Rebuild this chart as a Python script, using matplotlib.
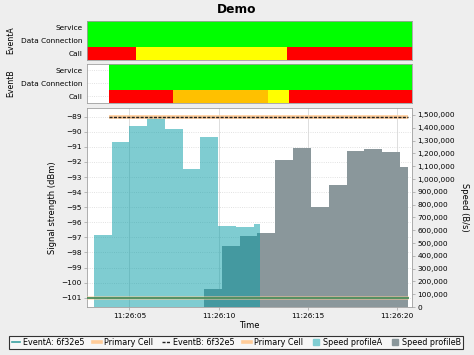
import matplotlib
matplotlib.use("Agg")
import matplotlib.pyplot as plt
import matplotlib.ticker as mticker
from matplotlib.lines import Line2D

# time axis: seconds after 11:26:00
T_MIN, T_MAX = 2.63, 20.82

# ---------------------------------------------------------
# state panels: start time of each state segment + state name
# ---------------------------------------------------------
rows = ["Call", "Data Connection", "Service"]

a_service_t = [2.63]
a_service_s = ["ok"]
a_data_t = [2.63]
a_data_s = ["ok"]
a_call_t = [2.63, 5.37, 13.81]
a_call_s = ["fail", "active", "fail"]

b_service_t = [3.86]
b_service_s = ["ok"]
b_data_t = [3.86]
b_data_s = ["ok"]
b_call_t = [3.86, 7.46, 12.78, 13.95]
b_call_s = ["fail", "setup", "active", "fail"]

STATE_COLORS = {"ok": "#00ff00", "fail": "#ff0000", "setup": "#ffc000", "active": "#ffff00"}

# ---------------------------------------------------------
# speed profiles (B/s), bar edges in seconds
# ---------------------------------------------------------
speed_a_edges = [3.02, 4.01, 5.0, 6.0, 6.98, 7.98, 8.98, 9.96, 10.96, 11.96, 12.33]
speed_a = [561000, 1291000, 1416000, 1487000, 1393000, 1077000, 1330000, 634000, 626000, 652000]

speed_b_edges = [9.18, 10.17, 11.17, 12.16, 13.16, 14.16, 15.16, 16.16, 17.16, 18.16, 19.16, 20.16, 20.61]
speed_b = [139000, 475000, 556000, 582000, 1145000, 1239000, 782000, 952000, 1221000, 1234000, 1208000, 1091000]

# signal strength (dBm)
sig_a_t = [2.63, 20.68]
sig_a = [-101, -101]
sig_b_t = [3.88, 20.6]
sig_b = [-89, -89]

BG = "#eeeeee"
BORDER = "#a0a0a0"
TEAL = "#009ba5"
GRAY = "#8a979b"
ORANGE = "#ffcc99"
GRID = "#d8d8d8"
TICK_FS = 5.3

plt.rcParams["font.family"] = "DejaVu Sans"
fig = plt.figure(figsize=(4.74, 3.55), dpi=100, facecolor=BG)

fig.text(0.5, 0.974, "Demo", ha="center", va="center", fontsize=8.8, fontweight="bold")

L, W = 0.1835, 0.6857


def state_panel(rect, name, series):
    axp = fig.add_axes(rect)
    for row, (starts, states) in enumerate(series):
        ends = starts[1:] + [T_MAX]
        spans = [(s, e - s) for s, e in zip(starts, ends)]
        axp.broken_barh(spans, (row, 1), facecolors=[STATE_COLORS[s] for s in states],
                        edgecolor="none", zorder=2)
    axp.set_xlim(T_MIN, T_MAX)
    axp.set_ylim(0, 3)
    axp.set_yticks([0.5, 1.5, 2.5])
    axp.set_yticklabels(rows, fontsize=TICK_FS)
    axp.tick_params(axis="y", length=0, pad=3)
    axp.set_xticks([5, 10, 15, 20])
    axp.tick_params(axis="x", length=0, labelbottom=False)
    axp.grid(color=GRID, linestyle=":", linewidth=0.6, zorder=0)
    axp.set_facecolor("white")
    for sp in axp.spines.values():
        sp.set_color(BORDER)
        sp.set_linewidth(0.6)
    axp.set_ylabel(name, fontsize=5.6)
    axp.yaxis.set_label_coords(-0.2215, 0.5)
    return axp


state_panel([L, 0.831, W, 0.110], "EventA",
            [(a_call_t, a_call_s), (a_data_t, a_data_s), (a_service_t, a_service_s)])
state_panel([L, 0.710, W, 0.110], "EventB",
            [(b_call_t, b_call_s), (b_data_t, b_data_s), (b_service_t, b_service_s)])

# ---------------------------------------------------------
# main chart: speed bars (right axis) + signal lines (left axis)
# ---------------------------------------------------------
ax_sp = fig.add_axes([L, 0.135, W, 0.561])
ax_sig = ax_sp.twinx()

ax_sp.stairs(speed_b, speed_b_edges, fill=True, color=GRAY, zorder=2)
ax_sp.stairs(speed_a, speed_a_edges, fill=True, color=TEAL, alpha=0.5, zorder=3)
ax_sp.set_xlim(T_MIN, T_MAX)
ax_sp.set_ylim(0, 1555000)
ax_sp.yaxis.tick_right()
ax_sp.yaxis.set_label_position("right")
ax_sp.yaxis.set_major_locator(mticker.MultipleLocator(100000))
ax_sp.yaxis.set_major_formatter(mticker.StrMethodFormatter("{x:,.0f}"))
ax_sp.set_ylabel("Speed (B/s)", fontsize=6, rotation=-90, va="bottom")
ax_sp.yaxis.set_label_coords(1.148, 0.5)
ax_sp.set_xticks([5, 10, 15, 20])
ax_sp.xaxis.set_major_formatter(mticker.FuncFormatter(lambda x, _: f"11:26:{x:02.0f}"))
ax_sp.set_xlabel("Time", fontsize=6, labelpad=2)
ax_sp.tick_params(labelsize=TICK_FS, length=2, width=0.5, color=BORDER, pad=2)
ax_sp.grid(axis="x", color=GRID, linewidth=0.6, zorder=0)
ax_sp.set_axisbelow(True)
ax_sp.set_facecolor("white")
for sp in ax_sp.spines.values():
    sp.set_color(BORDER)
    sp.set_linewidth(0.6)

ax_sig.yaxis.tick_left()
ax_sig.yaxis.set_label_position("left")
ax_sig.set_ylim(-101.62, -88.42)
ax_sig.yaxis.set_major_locator(mticker.MultipleLocator(1))
# dBm gridlines drawn behind the bars (host axes, twin's transform)
ax_sp.hlines(ax_sig.get_yticks(), T_MIN, T_MAX, transform=ax_sig.transData,
             colors=GRID, linestyles=":", linewidth=0.6, zorder=1)
ax_sig.plot(sig_a_t, sig_a, color=ORANGE, linewidth=2.6, alpha=0.6, solid_capstyle="butt")
ax_sig.plot(sig_a_t, sig_a, color="#4a8c5c", linewidth=1.3, solid_capstyle="butt")
ax_sig.plot(sig_b_t, sig_b, color=ORANGE, linewidth=2.6, solid_capstyle="butt")
ax_sig.plot(sig_b_t, sig_b, color="#222222", linewidth=1.0, linestyle=(0, (2.2, 1.0)))
ax_sig.set_ylim(-101.62, -88.42)
ax_sig.set_ylabel("Signal strength (dBm)", fontsize=6)
ax_sig.yaxis.set_label_coords(-0.092, 0.5)
ax_sig.tick_params(labelsize=TICK_FS, length=2, width=0.5, color=BORDER, pad=2)
for sp in ax_sig.spines.values():
    sp.set_visible(False)

# ---------------------------------------------------------
# legend
# ---------------------------------------------------------
handles = [
    Line2D([], [], color="#3aa0a0", linewidth=1.2),
    Line2D([], [], color=ORANGE, linewidth=2.6),
    Line2D([], [], color="#222222", linewidth=1.0, linestyle=(0, (2.2, 1.0))),
    Line2D([], [], color=ORANGE, linewidth=2.6),
    Line2D([], [], color="#7fcdd2", marker="s", linestyle="", markersize=4),
    Line2D([], [], color=GRAY, marker="s", linestyle="", markersize=4),
]
labels = ["EventA: 6f32e5", "Primary Cell", "EventB: 6f32e5", "Primary Cell",
          "Speed profileA", "Speed profileB"]
leg = fig.legend(handles, labels, loc="center", bbox_to_anchor=(0.4985, 0.035), ncol=6,
                 fontsize=5.8, frameon=True, fancybox=False, edgecolor="#333333",
                 facecolor="#f6f6f6", framealpha=1, handlelength=1.0, handletextpad=0.4,
                 columnspacing=1.05, borderpad=0.3, borderaxespad=0)
leg.get_frame().set_linewidth(0.8)

fig.savefig("out.png", dpi=100, facecolor=BG)
